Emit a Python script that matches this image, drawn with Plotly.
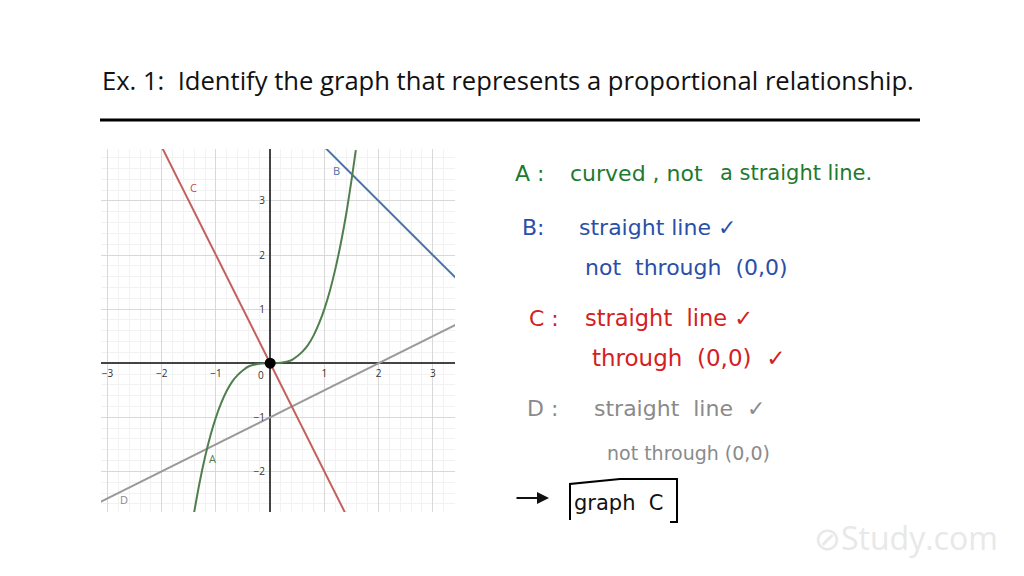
import plotly.graph_objects as go

# page is offset by the 8px body margin, so the figure is 1008x560
OFF = 8
FW, FH = 1024 - 2 * OFF, 576 - 2 * OFF

# ---- data ----
A_x = [-1.42, -1.3, -1.2, -1.1, -1.0, -0.9, -0.8, -0.7, -0.6, -0.5, -0.4, -0.3, -0.2, -0.1, 0.0,
       0.1, 0.2, 0.3, 0.4, 0.5, 0.6, 0.7, 0.8, 0.9, 1.0, 1.1, 1.2, 1.3, 1.4, 1.5, 1.58]
A_y = [-2.86, -2.20, -1.73, -1.33, -1.00, -0.73, -0.51, -0.34, -0.22, -0.13, -0.06, -0.03, -0.01, 0.00, 0.00,
       0.00, 0.01, 0.03, 0.06, 0.13, 0.22, 0.34, 0.51, 0.73, 1.00, 1.33, 1.73, 2.20, 2.74, 3.38, 3.94]
B_x = [1.0, 3.5]
B_y = [4.0, 1.5]
C_x = [-2.0, 1.4]
C_y = [4.0, -2.8]
D_x = [-3.2, 3.5]
D_y = [-2.6, 0.75]
origin = ([0.0], [0.0])

x_ticks = [-3, -2, -1, 1, 2, 3]
x_ticktext = ["\u22123", "\u22122", "\u22121", "1", "2", "3"]
y_ticks = [-2, -1, 1, 2, 3]
y_ticktext = ["\u22122", "\u22121", "1", "2", "3"]

labels = [("A", -1.07, -1.77, "#4f7f4f"), ("B", 1.22, 3.57, "#4a74a8"),
          ("C", -1.42, 3.24, "#c0504d"), ("D", -2.69, -2.51, "#888888")]

X_RANGE = [-3.12, 3.41]
Y_RANGE = [-2.75, 3.96]

# plot area in page pixels
PL, PR, PT, PB = 101, 455, 149, 512
AX0_X, AX0_Y = 270, 363.3   # page pixel of the origin


def px(x):
    return (x - OFF) / FW


def py(y):
    return 1 - (y - OFF) / FH


fig = go.Figure()
fig.add_trace(go.Scatter(x=D_x, y=D_y, mode="lines", line=dict(color="#9a9a9a", width=2), hoverinfo="skip"))
fig.add_trace(go.Scatter(x=B_x, y=B_y, mode="lines", line=dict(color="#4a74a8", width=2), hoverinfo="skip"))
fig.add_trace(go.Scatter(x=C_x, y=C_y, mode="lines", line=dict(color="#c4605d", width=2), hoverinfo="skip"))
fig.add_trace(go.Scatter(x=A_x, y=A_y, mode="lines", line=dict(color="#4f7f4f", width=2, shape="spline"),
                         hoverinfo="skip"))
fig.add_trace(go.Scatter(x=origin[0], y=origin[1], mode="markers",
                         marker=dict(color="black", size=11), hoverinfo="skip"))

for t, x, y, c in labels:
    fig.add_annotation(x=x, y=y, text=t, showarrow=False, font=dict(family="Open Sans", size=11, color=c))

fig.add_annotation(x=0, y=0, text="0", showarrow=False, xanchor="right", yanchor="top",
                   xshift=-4, yshift=-3, font=dict(family="Open Sans", size=10, color="#333"))

tickfont = dict(family="Open Sans", size=10, color="#333")
fig.update_xaxes(range=X_RANGE, domain=[px(PL), px(PR)], anchor="free", position=py(AX0_Y),
                 tickvals=x_ticks, ticktext=x_ticktext, tickfont=tickfont, ticklabelstandoff=3,
                 showgrid=True, gridcolor="#d9d9d9", gridwidth=1,
                 minor=dict(dtick=0.2, tick0=0, showgrid=True, gridcolor="#f2f2f2", gridwidth=1),
                 zeroline=True, zerolinecolor="#444", zerolinewidth=2, showline=False, ticks="")
fig.update_yaxes(range=Y_RANGE, domain=[py(PB), py(PT)], anchor="free", position=px(AX0_X),
                 tickvals=y_ticks, ticktext=y_ticktext, tickfont=tickfont, ticklabelstandoff=5,
                 showgrid=True, gridcolor="#d9d9d9", gridwidth=1,
                 minor=dict(dtick=0.2, tick0=0, showgrid=True, gridcolor="#f2f2f2", gridwidth=1),
                 zeroline=True, zerolinecolor="#444", zerolinewidth=2, showline=False, ticks="")

# title and rule
fig.add_annotation(xref="paper", yref="paper", x=px(100), y=py(80), xanchor="left", yanchor="middle",
                   text="Ex. 1:  Identify the graph that represents a proportional relationship.",
                   showarrow=False, font=dict(family="Open Sans", size=25.6, color="#111"))
fig.add_shape(type="line", xref="paper", yref="paper", x0=px(100), x1=px(920), y0=py(120), y1=py(120),
              line=dict(color="black", width=3))

# handwritten notes: (text, left x, centre y, colour, size)
GREEN, BLUE, RED, GRAY, BLACK = "#1e7a2e", "#2b4fa8", "#d42020", "#8a8a8a", "#111111"
notes = [
    ("A :", 513, 173, GREEN, 22),
    ("curved , not", 568, 173, GREEN, 22),
    ("a straight line.", 718, 173, GREEN, 21),
    ("B:", 520, 228, BLUE, 22),
    ("straight line \u2713", 577, 228, BLUE, 22),
    ("not  through  (0,0)", 583, 267, BLUE, 22),
    ("C :", 527, 318, RED, 22),
    ("straight  line \u2713", 583, 318, RED, 22.5),
    ("through  (0,0)  \u2713", 590, 358, RED, 23),
    ("D :", 525, 408, GRAY, 22),
    ("straight  line  \u2713", 592, 408, GRAY, 22),
    ("not through (0,0)", 605, 453, GRAY, 19),
    ("graph  C", 572, 503, BLACK, 21),
]
for t, x, y, c, s in notes:
    fig.add_annotation(xref="paper", yref="paper", x=px(x), y=py(y), xanchor="left", yanchor="middle",
                       text=t, showarrow=False, font=dict(family="DejaVu Sans", size=s, color=c))

# arrow pointing at the answer
fig.add_annotation(xref="paper", yref="paper", x=px(549), y=py(498), text="", showarrow=True,
                   ax=-34, ay=0, arrowhead=2, arrowsize=1.2, arrowwidth=2, arrowcolor=BLACK)

# box around answer
fig.add_shape(type="path", xref="paper", yref="paper",
              path=f"M {px(570)},{py(520)} L {px(570)},{py(484)} L {px(620)},{py(479)} "
                   f"L {px(677)},{py(479)} L {px(677)},{py(522)} L {px(670)},{py(522)}",
              line=dict(color="black", width=2))

# watermark
fig.add_annotation(xref="paper", yref="paper", x=px(1000), y=py(537), xanchor="right", yanchor="middle",
                   text="\u2298Study.com", showarrow=False,
                   font=dict(family="Open Sans", size=32, color="#e8e8e8"))

fig.update_layout(width=FW, height=FH, margin=dict(l=0, r=0, t=0, b=0),
                  paper_bgcolor="white", plot_bgcolor="white", showlegend=False)

fig.write_html("out.html")
